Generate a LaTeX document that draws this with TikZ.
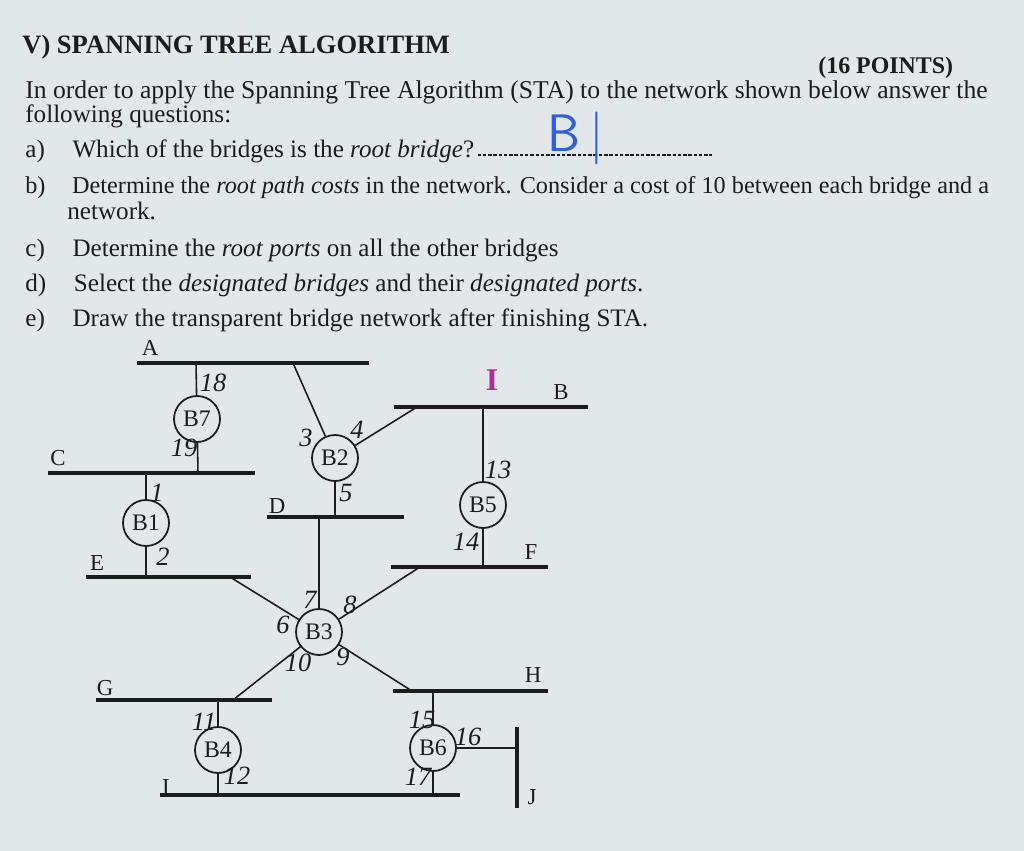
\documentclass[tikz,border=0pt]{standalone}
\usepackage{fontspec}
\setmainfont{Liberation Serif}
\usetikzlibrary{positioning}

\definecolor{paper}{RGB}{226,231,234}
\definecolor{ink}{RGB}{28,28,28}
\definecolor{penblue}{RGB}{45,95,225}
\definecolor{penpink}{RGB}{175,45,150}

\tikzset{
  lan/.style={line width=2.8pt, draw=ink},
  link/.style={line width=0.9pt, draw=ink},
  bridge/.style={circle, draw=ink, line width=1pt, fill=paper, minimum size=0.92cm,
    inner sep=0pt, text=ink, font=\fontsize{13.5}{13.5}\selectfont},
  port/.style={text=ink, inner sep=0pt, font=\fontsize{15}{15}\selectfont\itshape},
  lanname/.style={text=ink, inner sep=0pt, font=\fontsize{13}{13}\selectfont},
  txt/.style={anchor=base west, inner sep=0pt, text=ink, font=\fontsize{14.3}{16}\selectfont},
}

\begin{document}
\begin{tikzpicture}[x=0.02cm, y=-0.02cm]
  \fill[paper] (0,0) rectangle (1024,851);
  \useasboundingbox (0,0) rectangle (1024,851);

  % Questions
  \node[txt, font=\fontsize{15.1}{16}\selectfont\bfseries] (title) at (22,54) {V) SPANNING TREE ALGORITHM};
  \node[txt, font=\fontsize{13.6}{16}\selectfont\bfseries] (points) at (818,74) {(16 POINTS)};
  \node[txt, font=\fontsize{14.6}{16}\selectfont] (intro) at (25,99) {In order to apply the Spanning Tree Algorithm (STA) to the network shown below answer the};
  \node[txt] (intro2) at (25,123) {following questions:};
  \node[txt] (qa) at (25,158) {a)\hspace{1.1em}Which of the bridges is the \textit{root bridge}?};
  \draw[ink, line width=0.8pt, dash pattern=on 2pt off 1pt] (qa.base east) ++(3,-3) coordinate (dots) -- (712,155);
  \node[anchor=base west, inner sep=0pt, text=penblue, font=\fontsize{30}{30}\sffamily] (answer) at (547,152) {B\,|};
  \node[txt, font=\fontsize{13.8}{16}\selectfont] (qb) at (25,194) {b)\hspace{1.1em}Determine the \textit{root path costs} in the network. Consider a cost of 10 between each bridge and a};
  \node[txt] (qb2) at (67,220) {network.};
  \node[txt] (qc) at (25,256) {c)\hspace{1.1em}Determine the \textit{root ports} on all the other bridges};
  \node[txt] (qd) at (25,291) {d)\hspace{1.1em}Select the \textit{designated bridges} and their \textit{designated ports}.};
  \node[txt] (qe) at (25,326) {e)\hspace{1.1em}Draw the transparent bridge network after finishing STA.};

  % LANs
  \draw[lan] (137,363) -- (369,363);
  \draw[lan] (394,407) -- (588,407);
  \draw[lan] (48,473) -- (255,473);
  \draw[lan] (267,517) -- (404,517);
  \draw[lan] (86,577) -- (251,577);
  \draw[lan] (391,567) -- (548,567);
  \draw[lan] (96,700) -- (272,700);
  \draw[lan] (393,691) -- (548,691);
  \draw[lan] (160,795) -- (460,795);
  \draw[lan] (517,727) -- (517,808);
  \node[lanname] (labA) at (150,348) {A};
  \node[lanname] (labB) at (561,392) {B};
  \node[lanname] (labC) at (58,458) {C};
  \node[lanname] (labD) at (277,506) {D};
  \node[lanname] (labE) at (97,563) {E};
  \node[lanname] (labF) at (531,552) {F};
  \node[lanname] (labG) at (105,688) {G};
  \node[lanname] (labH) at (533,675) {H};
  \node[lanname] (labI) at (166,787) {I};
  \node[lanname] (labJ) at (532,797) {J};
  \node[text=penpink, inner sep=0pt, font=\fontsize{18}{18}\selectfont\bfseries] (mark) at (492,380) {I};

  % taps on the LANs
  \coordinate (a7) at (196,363);
  \coordinate (a2) at (293,363);
  \coordinate (b2) at (417,407);
  \coordinate (b5) at (483,407);
  \coordinate (c7) at (198,473);
  \coordinate (c1) at (146,473);
  \coordinate (d2) at (335,517);
  \coordinate (d3) at (319,517);
  \coordinate (e1) at (146,577);
  \coordinate (e3) at (230,577);
  \coordinate (f5) at (483,567);
  \coordinate (f3) at (420,567);
  \coordinate (g3) at (233,700);
  \coordinate (g4) at (218,700);
  \coordinate (h3) at (412,691);
  \coordinate (h6) at (433,691);
  \coordinate (i4) at (218,795);
  \coordinate (i6) at (433,795);
  \coordinate (j6) at (517,748);

  % Bridges
  \node[bridge] (B7) at (197,419) {B7};
  \node[bridge] (B1) at (146,523) {B1};
  \node[bridge] (B2) at (335,458) {B2};
  \node[bridge] (B5) at (483,505) {B5};
  \node[bridge] (B3) at (319,632) {B3};
  \node[bridge] (B4) at (218,750) {B4};
  \node[bridge] (B6) at (433,748) {B6};

  \draw[link] (a7) -- (B7);
  \draw[link] (B7) -- (c7);
  \draw[link] (c1) -- (B1);
  \draw[link] (B1) -- (e1);
  \draw[link] (a2) -- (B2);
  \draw[link] (B2) -- (b2);
  \draw[link] (B2) -- (d2);
  \draw[link] (b5) -- (B5);
  \draw[link] (B5) -- (f5);
  \draw[link] (d3) -- (B3);
  \draw[link] (e3) -- (B3);
  \draw[link] (f3) -- (B3);
  \draw[link] (B3) -- (g3);
  \draw[link] (B3) -- (h3);
  \draw[link] (g4) -- (B4);
  \draw[link] (B4) -- (i4);
  \draw[link] (h6) -- (B6);
  \draw[link] (B6) -- (i6);
  \draw[link] (B6) -- (j6);

  % port numbers
  \node[port] (p18) at (213,383) {18};
  \node[port] (p19) at (184,448) {19};
  \node[port] (p1) at (157,493) {1};
  \node[port] (p2) at (163,557) {2};
  \node[port] (p3) at (306,438) {3};
  \node[port] (p4) at (357,430) {4};
  \node[port] (p5) at (346,493) {5};
  \node[port] (p13) at (498,470) {13};
  \node[port] (p14) at (466,542) {14};
  \node[port] (p7) at (310,600) {7};
  \node[port] (p8) at (350,605) {8};
  \node[port] (p6) at (283,625) {6};
  \node[port] (p10) at (298,663) {10};
  \node[port] (p9) at (343,657) {9};
  \node[port] (p11) at (204,722) {11};
  \node[port] (p12) at (237,776) {12};
  \node[port] (p15) at (422,720) {15};
  \node[port] (p16) at (468,737) {16};
  \node[port] (p17) at (418,777) {17};
\end{tikzpicture}
\end{document}
